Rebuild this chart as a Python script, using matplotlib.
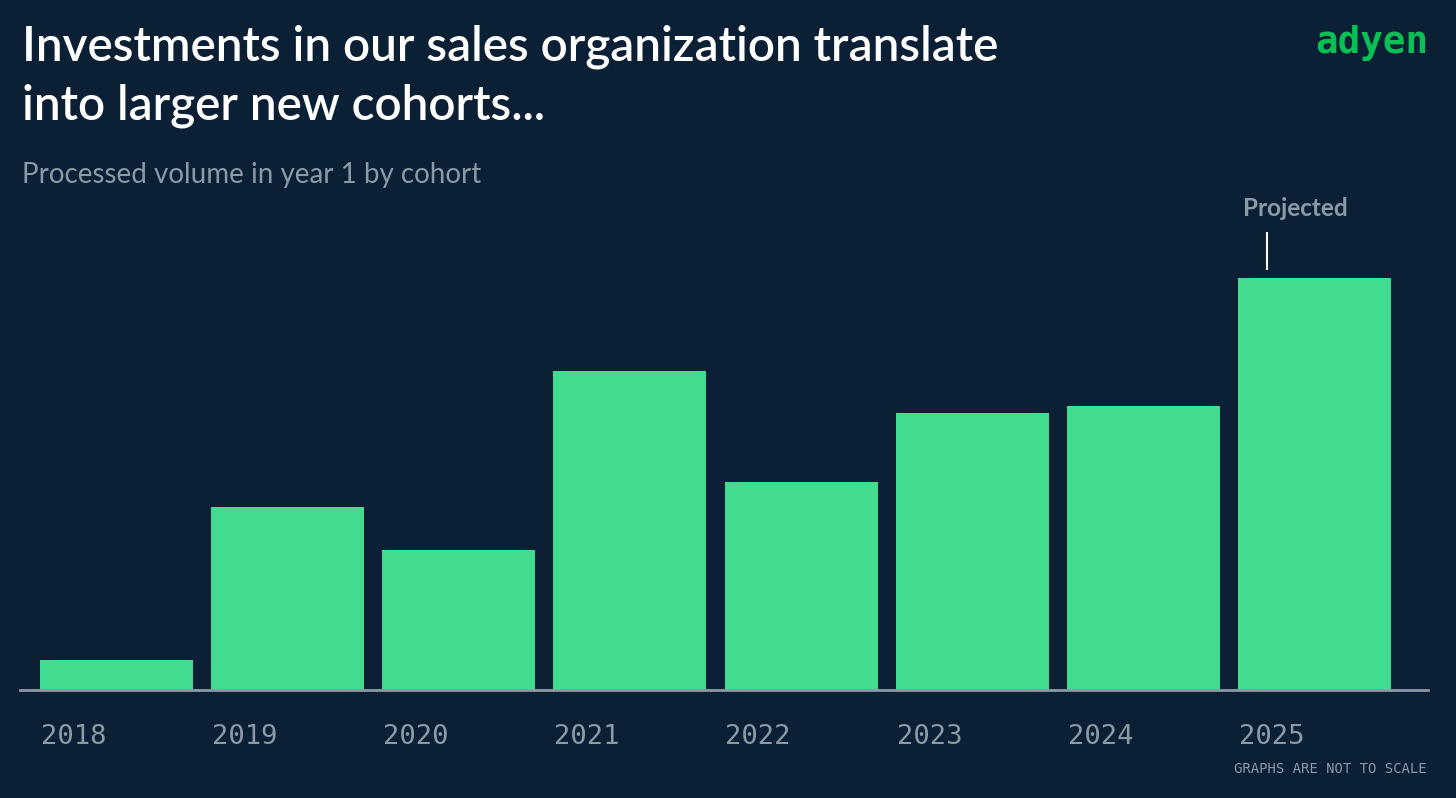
import matplotlib.pyplot as plt
import numpy as np

years = ['2018', '2019', '2020', '2021', '2022', '2023', '2024', '2025']
volume = [30, 183, 140, 319, 208, 277, 284, 412]  # not to scale

BG = '#0b2035'
GREEN = '#42dc91'
GREY = '#8a9aa6'

plt.rcParams['font.family'] = ['Lato', 'DejaVu Sans']

fig = plt.figure(figsize=(14.56, 7.98), dpi=100)
fig.patch.set_facecolor(BG)

W, H = 1456.0, 798.0
ax = fig.add_axes([20 / W, (H - 690) / H, 1408 / W, (690 - 200) / H])
ax.set_facecolor(BG)

x = np.arange(len(years))
width = 0.894
ax.bar(x, volume, width=width, color=GREEN, zorder=2)

ax.set_xlim(-0.564, 7.663)
ax.set_ylim(0, 490)
for s in ['top', 'right', 'left']:
    ax.spines[s].set_visible(False)
ax.spines['bottom'].set_color(GREY)
ax.spines['bottom'].set_linewidth(2)
ax.set_yticks([])
ax.set_xticks([])

# year labels, left aligned with the bars
for xi, yr in zip(x, years):
    ax.text(xi - width / 2 + 0.005, -47, yr, ha='left', va='center',
            fontsize=19.5, color=GREY, family='DejaVu Sans Mono')

# projected marker
last = len(years) - 1
ax.vlines(last - width / 2 + 0.17, volume[last] + 8, volume[last] + 46,
          color='white', lw=1.5)
ax.text(last - width / 2 + 0.03, volume[last] + 70, 'Projected', ha='left',
        va='center', fontsize=17.5, fontweight='bold', color=GREY)

fig.text(22 / W, 1 - 47 / H, 'Investments in our sales organization translate',
         fontsize=34.3, fontweight='semibold', color='white', ha='left', va='center')
fig.text(22 / W, 1 - 106 / H, 'into larger new cohorts...',
         fontsize=34.3, fontweight='semibold', color='white', ha='left', va='center')
fig.text(22 / W, 1 - 175 / H, 'Processed volume in year 1 by cohort',
         fontsize=20, color=GREY, ha='left', va='center')

fig.text(1428 / W, 1 - 43 / H, 'adyen', fontsize=27, fontweight='heavy',
         color='#0abf53', ha='right', va='center', family='DejaVu Sans Mono')
fig.text(1427 / W, 1 - 769 / H, 'GRAPHS ARE NOT TO SCALE', fontsize=10,
         color=GREY, ha='right', va='center', family='DejaVu Sans Mono')

fig.savefig('out.png', dpi=100, facecolor=BG)
